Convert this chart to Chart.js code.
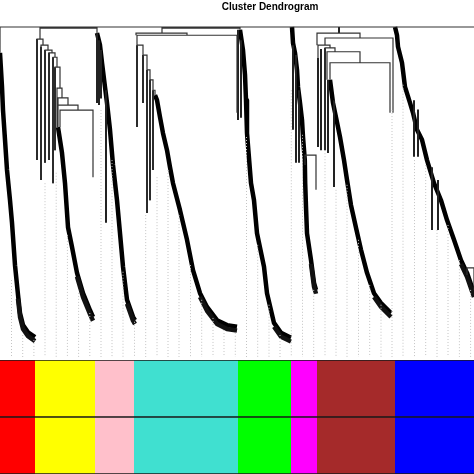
<!DOCTYPE html>
<html>
<head>
<meta charset="utf-8">
<title>Cluster Dendrogram</title>
<script src="https://cdn.jsdelivr.net/npm/chart.js@4.4.1/dist/chart.umd.min.js"></script>
<style>
  body { margin: 0; background: #fff; }
  #tree { position: absolute; left: 0; top: 0; }
  #colors { position: absolute; left: 0; top: 360px; }
</style>
</head>
<body>
<canvas id="tree" width="474" height="358"></canvas>
<canvas id="colors" width="474" height="114"></canvas>
<script>
// gene order runs 0..4740, tree height runs 0.4..1.0

// module colour blocks under the tree
var moduleColors = ['#FF0000', '#FFFF00', '#FFC0CB', '#40E0D0', '#00FF00', '#FF00FF', '#A52A2A', '#0000FF'];
var moduleStart = [0, 350, 950, 1340, 2380, 2910, 3170, 3950];
var moduleEnd = [350, 950, 1340, 2380, 2910, 3170, 3950, 4740];
var colorRows = ['Dynamic Tree Cut', 'Merged dynamic'];

// dense leaf combs of each module (gene position, height)
var redX = [0, 20, 30, 50, 70, 100, 120, 150, 180, 200, 230, 280, 350];
var redH = [0.953, 0.891, 0.849, 0.795, 0.740, 0.685, 0.644, 0.567, 0.513, 0.480, 0.458, 0.445, 0.436];
var yellowX = [580, 620, 650, 680, 720, 770, 830, 900, 930];
var yellowH = [0.818, 0.771, 0.716, 0.636, 0.600, 0.553, 0.516, 0.485, 0.473];
var pinkX = [970, 1000, 1020, 1050, 1070, 1100, 1130, 1170, 1200, 1230, 1270, 1330, 1350];
var pinkH = [0.989, 0.967, 0.935, 0.891, 0.862, 0.813, 0.749, 0.685, 0.625, 0.564, 0.504, 0.473, 0.467];
var turquoiseX = [1550, 1570, 1600, 1630, 1670, 1700, 1730, 1800, 1870, 1930, 2000, 2070, 2170, 2270, 2370];
var turquoiseH = [0.876, 0.867, 0.836, 0.807, 0.776, 0.745, 0.716, 0.667, 0.613, 0.558, 0.516, 0.491, 0.467, 0.458, 0.455];
var greenX = [2400, 2430, 2450, 2460, 2470, 2510, 2540, 2570, 2640, 2670, 2740, 2810, 2910];
var greenH = [0.995, 0.958, 0.913, 0.867, 0.807, 0.716, 0.685, 0.625, 0.564, 0.516, 0.462, 0.444, 0.435];
var magentaX = [2920, 2930, 2950, 2970, 2980, 3000, 3020, 3030, 3048, 3052, 3060, 3070, 3110, 3140, 3160];
var magentaH = [1.0, 0.971, 0.953, 0.922, 0.891, 0.862, 0.831, 0.800, 0.758, 0.716, 0.673, 0.625, 0.576, 0.535, 0.522];
var brownX = [3300, 3330, 3370, 3400, 3440, 3470, 3510, 3560, 3610, 3670, 3740, 3810, 3910];
var brownH = [0.904, 0.862, 0.827, 0.800, 0.758, 0.722, 0.676, 0.635, 0.595, 0.553, 0.516, 0.498, 0.480];
var blueX = [3950, 3970, 3980, 4020, 4050, 4100, 4130, 4170, 4220, 4270, 4340, 4410, 4470, 4540, 4610, 4670, 4740];
var blueH = [1.0, 0.985, 0.964, 0.935, 0.891, 0.862, 0.844, 0.813, 0.795, 0.758, 0.716, 0.685, 0.649, 0.613, 0.576, 0.553, 0.516];

// lowest leaves along the tail of each comb
var redTailX = [180, 200, 230, 280, 350];
var redTailH = [0.506, 0.473, 0.451, 0.438, 0.429];
var yellowTailX = [770, 830, 900, 930];
var yellowTailH = [0.546, 0.509, 0.478, 0.466];
var pinkTailX = [1270, 1330, 1350];
var pinkTailH = [0.497, 0.466, 0.460];
var turquoiseTailX = [2000, 2070, 2170, 2270, 2370];
var turquoiseTailH = [0.509, 0.484, 0.460, 0.451, 0.448];
var greenTailX = [2740, 2810, 2910];
var greenTailH = [0.455, 0.437, 0.428];
var magentaTailX = [3110, 3140, 3160];
var magentaTailH = [0.569, 0.528, 0.515];
var brownTailX = [3740, 3810, 3910];
var brownTailH = [0.509, 0.491, 0.473];
var blueTailX = [4610, 4670, 4740];
var blueTailH = [0.569, 0.546, 0.509];

// upper merges: [left, right, height, left child height, right child height]
var merges = [
  [0, 4740, 1.0, 0.953, 1.0],
  [400, 970, 0.998, 0.978, 0.989],
  [370, 430, 0.978, 0.758, 0.967],
  [410, 480, 0.967, 0.722, 0.958],
  [450, 520, 0.958, 0.753, 0.953],
  [490, 550, 0.953, 0.758, 0.945],
  [530, 570, 0.945, 0.716, 0.927],
  [550, 600, 0.927, 0.776, 0.889],
  [570, 620, 0.889, 0.818, 0.871],
  [580, 680, 0.871, 0.818, 0.858],
  [580, 780, 0.858, 0.818, 0.849],
  [600, 930, 0.849, 0.818, 0.727],
  [1620, 2400, 0.998, 0.989, 0.995],
  [1360, 1870, 0.989, 0.985, 0.985],
  [1370, 2370, 0.985, 0.967, 0.844],
  [1370, 1430, 0.967, 0.818, 0.949],
  [1430, 1470, 0.949, 0.862, 0.922],
  [1470, 1500, 0.922, 0.662, 0.904],
  [1500, 1530, 0.904, 0.685, 0.885],
  [1530, 1550, 0.885, 0.740, 0.876],
  [3050, 3160, 0.767, 0.749, 0.704],
  [3170, 3600, 0.989, 0.967, 0.980],
  [3250, 3930, 0.980, 0.967, 0.844],
  [3180, 3300, 0.967, 0.944, 0.962],
  [3250, 3350, 0.962, 0.776, 0.955],
  [3270, 3600, 0.955, 0.904, 0.935],
  [3300, 3900, 0.935, 0.904, 0.844],
  [4670, 4740, 0.562, 0.549, 0.522]
];

// single hanging branches: [position, top height, bottom height]
var sticks = [
  [370, 0.978, 0.758], [410, 0.964, 0.722], [450, 0.958, 0.753], [490, 0.953, 0.758], [530, 0.945, 0.716], [550, 0.927, 0.776],
  [970, 0.989, 0.862], [990, 0.976, 0.858], [1010, 0.958, 0.870], [1060, 0.885, 0.644],
  [1370, 0.967, 0.818], [1430, 0.949, 0.862], [1470, 0.922, 0.662], [1500, 0.904, 0.685], [1530, 0.885, 0.740],
  [2380, 0.995, 0.831], [2410, 0.976, 0.835],
  [2930, 0.967, 0.813], [2960, 0.949, 0.753], [2990, 0.885, 0.753],
  [3390, 1.0, 0.989], [3180, 0.944, 0.782], [3210, 0.960, 0.776], [3250, 0.962, 0.776], [3340, 0.867, 0.709], [3280, 0.904, 0.771],
  [4140, 0.867, 0.764], [4180, 0.850, 0.764], [4320, 0.745, 0.631], [4380, 0.722, 0.631]
];

// dotted guide lines down to the colour bars
var guideX = [115, 227, 339, 450, 562, 674, 786, 898, 1010, 1120, 1230, 1345, 1457, 1570, 1680, 1790, 1905, 2017, 2130, 2240, 2353,
  2465, 2577, 2690, 2800, 2913, 3025, 3137, 3250, 3360, 3470, 3585, 3697, 3810, 3920, 4030, 4145, 4257, 4370, 4480, 4594, 4706];
var guideTop = [0.540, 0.440, 0.431, 0.716, 0.735, 0.622, 0.522, 0.480, 0.849, 0.758, 0.555, 0.464, 0.658, 0.727, 0.740, 0.658, 0.567,
  0.504, 0.471, 0.449, 0.444, 0.800, 0.604, 0.495, 0.440, 0.885, 0.804, 0.522, 0.776, 0.704, 0.713, 0.613, 0.531, 0.495, 0.849, 0.895,
  0.758, 0.749, 0.631, 0.640, 0.576, 0.522];

function curve(xs, hs) {
  var pts = xs.map(function (x, i) { return { x: x, y: hs[i] }; });
  pts.push({ x: xs[xs.length - 1], y: null });
  return pts;
}

var combPts = [].concat(
  curve(redX, redH), curve(yellowX, yellowH), curve(pinkX, pinkH), curve(turquoiseX, turquoiseH),
  curve(greenX, greenH), curve(magentaX, magentaH), curve(brownX, brownH), curve(blueX, blueH));

var tailPts = [].concat(
  curve(redTailX, redTailH), curve(yellowTailX, yellowTailH), curve(pinkTailX, pinkTailH), curve(turquoiseTailX, turquoiseTailH),
  curve(greenTailX, greenTailH), curve(magentaTailX, magentaTailH), curve(brownTailX, brownTailH), curve(blueTailX, blueTailH));

var mergePts = [];
merges.forEach(function (m) {
  mergePts.push({ x: m[0], y: m[3] }, { x: m[0], y: m[2] }, { x: m[1], y: m[2] }, { x: m[1], y: m[4] }, { x: m[1], y: null });
});

var stickPts = [];
sticks.forEach(function (s) {
  stickPts.push({ x: s[0], y: s[1] }, { x: s[0], y: s[2] }, { x: s[0], y: null });
});

var guidePts = [];
guideX.forEach(function (x, i) {
  guidePts.push({ x: x, y: guideTop[i] }, { x: x, y: 0.4 }, { x: x, y: null });
});

var titlePlugin = {
  id: 'mainTitle',
  afterDraw: function (chart) {
    var ctx = chart.ctx;
    ctx.save();
    ctx.font = 'bold 10px "Liberation Sans", Arial, sans-serif';
    ctx.fillStyle = '#000';
    ctx.textAlign = 'center';
    ctx.fillText('Cluster Dendrogram', chart.scales.x.getPixelForValue(2700), 10);
    ctx.restore();
  }
};

var tree = new Chart(document.getElementById('tree'), {
  type: 'scatter',
  data: {
    datasets: [
      { label: 'guides', data: guidePts, showLine: true, pointRadius: 0, borderColor: '#c4c4c4', borderWidth: 1, borderDash: [1, 2], clip: false },
      { label: 'merges', data: mergePts, showLine: true, pointRadius: 0, borderColor: '#333', borderWidth: 1.2, clip: false },
      { label: 'sticks', data: stickPts, showLine: true, pointRadius: 0, borderColor: '#222', borderWidth: 2, clip: false },
      { label: 'tails', data: tailPts, showLine: true, pointRadius: 0, borderColor: '#111', borderWidth: 4.5, borderJoinStyle: 'round', clip: false },
      { label: 'leaves', data: combPts, showLine: true, pointRadius: 0, borderColor: '#000', borderWidth: 4.5, borderJoinStyle: 'round', clip: false }
    ]
  },
  options: {
    responsive: false,
    animation: false,
    layout: { padding: { top: 27, bottom: 1, left: 0, right: 0 } },
    plugins: { legend: { display: false }, tooltip: { enabled: false } },
    scales: {
      x: { type: 'linear', min: 0, max: 4740, display: false },
      y: { type: 'linear', min: 0.4, max: 1.0, display: false }
    }
  },
  plugins: [titlePlugin]
});

var colorChart = new Chart(document.getElementById('colors'), {
  type: 'bar',
  data: {
    labels: colorRows,
    datasets: moduleColors.map(function (c, i) {
      return {
        label: c,
        data: colorRows.map(function () { return [moduleStart[i], moduleEnd[i]]; }),
        backgroundColor: c,
        borderColor: '#1a1a1a',
        borderWidth: { top: 1, bottom: 1, left: 0, right: 0 },
        borderSkipped: false,
        grouped: false,
        categoryPercentage: 1,
        barPercentage: 1
      };
    })
  },
  options: {
    indexAxis: 'y',
    responsive: false,
    animation: false,
    layout: { padding: 0 },
    plugins: { legend: { display: false }, tooltip: { enabled: false } },
    scales: {
      x: { type: 'linear', min: 0, max: 4740, display: false },
      y: { display: false }
    }
  }
});
</script>
</body>
</html>
